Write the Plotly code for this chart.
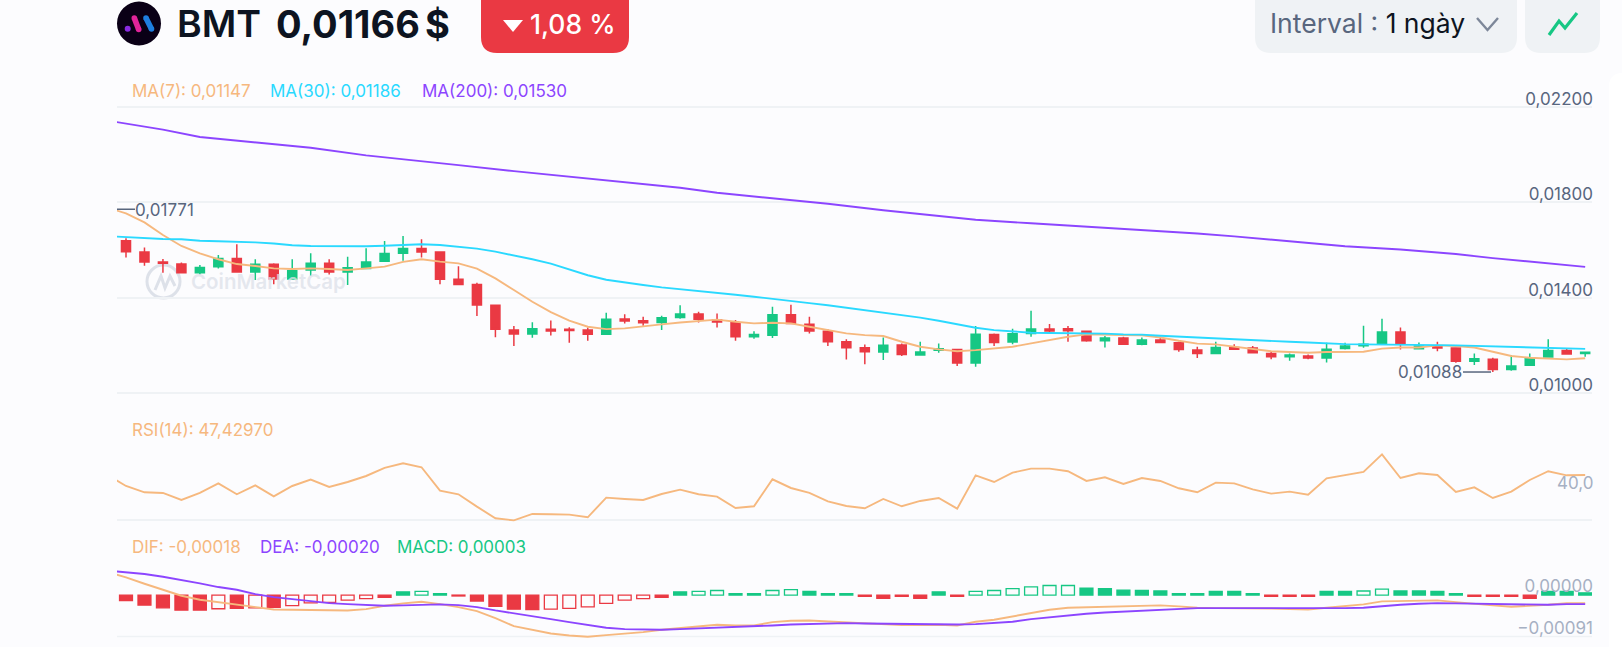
import numpy as np
import plotly.graph_objects as go

W = 1622
H = 647

# prices in 0.00001 steps
days = list(range(1, 81))
opens = [1639, 1592, 1550, 1541, 1505, 1530, 1564, 1508, 1540, 1478,
         1516, 1544, 1508, 1522, 1553, 1586, 1606, 1592, 1477, 1455,
         1368, 1264, 1248, 1267, 1267, 1264, 1246, 1310, 1303, 1296,
         1317, 1331, 1306, 1295, 1236, 1242, 1328, 1288, 1259, 1215,
         1190, 1172, 1201, 1159, 1179, 1183, 1126, 1245, 1214, 1250,
         1268, 1270, 1259, 1219, 1231, 1205, 1222, 1211, 1180, 1166,
         1191, 1189, 1166, 1152, 1155, 1147, 1187, 1198, 1204, 1256,
         1186, 1197, 1189, 1133, 1142, 1099, 1116, 1151, 1178, 1166]
closes = [1593, 1550, 1544, 1505, 1527, 1564, 1508, 1540, 1478, 1513,
          1544, 1508, 1525, 1550, 1585, 1606, 1592, 1477, 1455, 1369,
          1267, 1248, 1270, 1260, 1262, 1246, 1309, 1302, 1295, 1316,
          1331, 1309, 1298, 1236, 1245, 1328, 1292, 1260, 1215, 1190,
          1173, 1200, 1161, 1172, 1186, 1126, 1246, 1212, 1249, 1268,
          1260, 1261, 1219, 1231, 1205, 1222, 1212, 1182, 1166, 1191,
          1184, 1169, 1152, 1159, 1147, 1184, 1197, 1204, 1256, 1204,
          1197, 1189, 1133, 1144, 1099, 1113, 1145, 1178, 1164, 1171]
highs = [1649, 1611, 1562, 1548, 1537, 1579, 1624, 1561, 1544, 1561,
         1586, 1561, 1572, 1607, 1638, 1659, 1645, 1593, 1532, 1463,
         1371, 1281, 1297, 1304, 1276, 1275, 1337, 1330, 1320, 1324,
         1368, 1341, 1334, 1306, 1259, 1362, 1370, 1320, 1267, 1225,
         1203, 1233, 1208, 1215, 1208, 1186, 1281, 1250, 1270, 1345,
         1289, 1281, 1261, 1239, 1236, 1233, 1236, 1215, 1194, 1215,
         1204, 1197, 1176, 1166, 1162, 1211, 1211, 1282, 1312, 1275,
         1212, 1215, 1191, 1166, 1148, 1158, 1166, 1225, 1185, 1174]
lows = [1568, 1534, 1505, 1502, 1497, 1522, 1505, 1474, 1456, 1478,
        1491, 1497, 1453, 1522, 1553, 1555, 1568, 1456, 1452, 1323,
        1234, 1197, 1232, 1241, 1211, 1219, 1246, 1292, 1282, 1264,
        1312, 1296, 1275, 1219, 1228, 1231, 1292, 1250, 1197, 1141,
        1121, 1138, 1155, 1156, 1169, 1113, 1110, 1197, 1205, 1236,
        1250, 1215, 1215, 1191, 1203, 1200, 1211, 1173, 1147, 1163,
        1180, 1166, 1142, 1135, 1142, 1128, 1183, 1190, 1204, 1183,
        1186, 1175, 1127, 1117, 1088, 1093, 1116, 1151, 1161, 1152]

# line series start one day earlier, the chart edge cuts that first segment
line_days = list(range(0, 81))
ma7 = [1777, 1754, 1716, 1663, 1617, 1586, 1561, 1541, 1533, 1523, 1520, 1523, 1520,
       1516, 1523, 1530, 1550, 1561, 1551, 1544, 1522, 1481, 1432, 1383, 1339, 1304,
       1278, 1268, 1271, 1278, 1288, 1296, 1302, 1308, 1299, 1292, 1295, 1292, 1278,
       1264, 1250, 1243, 1239, 1215, 1194, 1183, 1175, 1180, 1187, 1194, 1208, 1222,
       1236, 1246, 1246, 1243, 1242, 1233, 1219, 1207, 1204, 1194, 1183, 1175, 1172,
       1169, 1172, 1173, 1173, 1186, 1191, 1191, 1200, 1197, 1191, 1173, 1155, 1148,
       1145, 1141, 1146]
ma30 = [1658, 1653, 1649, 1646, 1645, 1639, 1637, 1635, 1632, 1627, 1620, 1617, 1616,
        1614, 1616, 1618, 1621, 1624, 1621, 1614, 1606, 1593, 1578, 1561, 1543, 1520,
        1494, 1475, 1463, 1453, 1443, 1436, 1429, 1421, 1412, 1404, 1396, 1387, 1377,
        1368, 1358, 1348, 1337, 1327, 1316, 1303, 1288, 1274, 1264, 1257, 1253, 1252,
        1252, 1250, 1249, 1246, 1245, 1240, 1236, 1233, 1231, 1226, 1222, 1218, 1215,
        1212, 1208, 1205, 1204, 1204, 1204, 1201, 1201, 1200, 1198, 1197, 1196, 1194,
        1192, 1189, 1185]
ma200_days = [0, 3, 5, 8, 11, 14, 17, 19, 22, 25, 28, 31, 33, 36, 39, 42, 45, 47, 50, 53,
              56, 59, 61, 64, 67, 70, 73, 75, 78, 80]
ma200 = [2143, 2105, 2074, 2051, 2029, 1997, 1974, 1956, 1931, 1907, 1884, 1861, 1840,
         1817, 1794, 1767, 1744, 1727, 1712, 1698, 1684, 1669, 1657, 1637, 1616, 1602,
         1583, 1566, 1545, 1529]

rsi = [47.40, 45.61, 44.57, 44.46, 43.30, 44.46, 46.05, 44.24, 45.72, 43.91, 45.61,
       46.66, 45.45, 46.27, 47.26, 48.59, 49.36, 48.70, 44.84, 44.24, 42.20, 40.28,
       39.94, 40.99, 40.94, 40.88, 40.44, 43.69, 43.47, 43.30, 44.29, 45.01, 44.24,
       43.85, 41.98, 42.26, 46.71, 45.28, 44.46, 43.08, 42.31, 41.93, 43.47, 42.26,
       43.14, 43.63, 41.87, 47.37, 46.27, 47.82, 48.48, 48.48, 48.04, 46.44, 47.04,
       45.94, 46.93, 46.44, 45.23, 44.57, 46.16, 46.05, 45.06, 44.35, 44.68, 44.18,
       46.88, 47.43, 47.93, 50.84, 46.93, 47.71, 47.43, 44.62, 45.39, 43.63, 44.68,
       46.60, 48.04, 47.37, 47.43]

dif = [50.6, 38.8, 24.9, 11.7, -1.5, -10.3, -15.4, -22.0, -25.7, -31.5, -32.3, -33.0,
       -33.7, -33.7, -30.8, -23.5, -18.3, -14.7, -19.8, -26.4, -35.2, -50.6, -68.2,
       -76.2, -84.3, -88.7, -91.6, -88.0, -85.0, -81.4, -76.2, -72.6, -68.2, -65.2,
       -66.7, -66.7, -59.4, -56.4, -55.7, -57.9, -60.1, -63.0, -64.5, -66.0, -66.0,
       -65.2, -66.7, -58.6, -54.2, -46.9, -40.3, -32.3, -27.9, -27.1, -24.9, -24.9,
       -23.5, -22.7, -24.9, -27.9, -28.6, -28.6, -28.6, -29.3, -30.8, -31.5, -27.9,
       -24.9, -20.5, -13.9, -13.2, -12.5, -11.7, -15.4, -19.8, -22.7, -25.7, -24.2,
       -21.3, -17.6, -17.6]
dea = [53.5, 50.6, 46.2, 40.3, 33.7, 25.7, 17.6, 11.7, 2.2, -4.4, -8.8, -13.2, -17.6,
       -19.8, -22.0, -23.5, -22.7, -21.3, -20.5, -22.0, -26.4, -33.7, -39.6, -45.4,
       -52.8, -59.4, -66.0, -71.8, -74.8, -76.2, -76.2, -74.8, -73.3, -71.8, -70.4,
       -69.6, -66.7, -64.5, -63.0, -62.3, -61.6, -62.3, -63.0, -63.0, -63.8, -63.8,
       -64.5, -63.8, -61.6, -58.6, -52.8, -48.4, -44.7, -41.0, -38.1, -35.9, -33.7,
       -31.5, -29.3, -28.6, -28.6, -28.6, -28.6, -29.3, -30.1, -30.1, -29.3, -28.6,
       -27.9, -24.2, -21.3, -19.1, -17.6, -18.3, -19.1, -20.5, -21.3, -22.0, -21.3,
       -19.8, -19.8]
macd = [-12, -22, -28, -33, -33, -30, -29, -28, -27, -23, -17, -16, -11, -8, -5, 7, 8, 3,
        -2, -13, -25, -31, -32, -31, -29, -26, -18, -11, -8, -5, 7, 8, 10, 3, 3, 10, 12,
        8, 3, 3, -3, -7, -3, -7, 7, -3, 8, 10, 14, 18, 21, 21, 15, 14, 11, 10, 9, 3, 3,
        8, 8, 3, -3, -3, -3, 8, 8, 9, 13, 9, 9, 8, 3, -3, -3, -3, -7, 8, 8, 5]
# days where the histogram bar is an outline only
macd_hollow = [6, 8, 10, 11, 12, 13, 14, 17, 24, 25, 26, 27, 28, 29, 32, 33, 36, 37, 47,
               48, 49, 50, 51, 52, 68, 69]

price_ticks = [0.010, 0.014, 0.018, 0.022]
macd_ticks = [0, -0.00091]

RED = "#EA3943"
GREEN = "#16C784"
ORANGE = "#F6B87E"
CYAN = "#2AD9FF"
PURPLE = "#8C45FF"
GREY = "#58667E"
PALE = "#A6B0C3"
DARK = "#0D1421"
GRID = "#EFF2F5"
BG = "#FCFCFE"
WATERMARK = "#DDE1E9"
FONT = "Inter"
LINE_WIDTH = 1.9


def scaled(values):
    return (np.array(values, dtype=float) / 100000).tolist()


def paper_x(px):
    return px / W


def paper_y(py):
    return 1 - py / H


def text(px, py, content, color, size, weight=400, anchor="left"):
    return dict(xref="paper", yref="paper", x=paper_x(px), y=paper_y(py), text=content,
                showarrow=False, xanchor=anchor, yanchor="middle",
                font=dict(family=FONT, size=size, color=color, weight=weight))


def path_shape(path, fill=None, line=None, width=0, layer="above"):
    return dict(type="path", xref="paper", yref="paper", path=path, fillcolor=fill,
                line=dict(color=line, width=width), layer=layer)


def round_box(x0, y0, x1, y1, r, fill, layer="below"):
    x0, x1 = paper_x(x0), paper_x(x1)
    y0, y1 = paper_y(y0), paper_y(y1)
    rx, ry = r / W, r / H
    path = (f"M{x0 + rx},{y0} L{x1 - rx},{y0} Q{x1},{y0} {x1},{y0 - ry} L{x1},{y1 + ry} "
            f"Q{x1},{y1} {x1 - rx},{y1} L{x0 + rx},{y1} Q{x0},{y1} {x0},{y1 + ry} "
            f"L{x0},{y0 - ry} Q{x0},{y0} {x0 + rx},{y0} Z")
    return path_shape(path, fill=fill, line=fill, width=0, layer=layer)


def polyline(points, color, width, layer="above", close=False, fill=None):
    parts = [f"{paper_x(x)},{paper_y(y)}" for x, y in points]
    path = "M" + " L".join(parts) + (" Z" if close else "")
    return path_shape(path, fill=fill, line=color, width=width, layer=layer)


def dot(x, y, r, color):
    return dict(type="circle", xref="paper", yref="paper", x0=paper_x(x - r), x1=paper_x(x + r),
                y0=paper_y(y + r), y1=paper_y(y - r), fillcolor=color, line=dict(width=0))


def logo_stroke(p0, p1, color, width):
    return [polyline([p0, p1], color, width), dot(p0[0], p0[1], width / 2, color),
            dot(p1[0], p1[1], width / 2, color)]


fig = go.Figure()

fig.add_trace(go.Candlestick(
    x=days, open=scaled(opens), high=scaled(highs), low=scaled(lows), close=scaled(closes),
    increasing=dict(line=dict(color=GREEN, width=1.5), fillcolor=GREEN),
    decreasing=dict(line=dict(color=RED, width=1.5), fillcolor=RED),
    yaxis="y", whiskerwidth=0))
fig.add_trace(go.Scatter(x=line_days, y=scaled(ma7), mode="lines", yaxis="y",
                         line=dict(color=ORANGE, width=LINE_WIDTH)))
fig.add_trace(go.Scatter(x=line_days, y=scaled(ma30), mode="lines", yaxis="y",
                         line=dict(color=CYAN, width=LINE_WIDTH)))
fig.add_trace(go.Scatter(x=ma200_days, y=scaled(ma200), mode="lines", yaxis="y",
                         line=dict(color=PURPLE, width=LINE_WIDTH)))

fig.add_trace(go.Scatter(x=line_days, y=rsi, mode="lines", yaxis="y2",
                         line=dict(color=ORANGE, width=LINE_WIDTH)))

bar_colors = [GREEN if v >= 0 else RED for v in macd]
bar_fills = [BG if d in macd_hollow else c for d, c in zip(days, bar_colors)]
fig.add_trace(go.Bar(x=days, y=scaled(macd), width=0.7, yaxis="y3",
                     marker=dict(color=bar_fills, line=dict(color=bar_colors, width=1.3))))
fig.add_trace(go.Scatter(x=line_days, y=scaled(dif), mode="lines", yaxis="y3",
                         line=dict(color=ORANGE, width=LINE_WIDTH)))
fig.add_trace(go.Scatter(x=line_days, y=scaled(dea), mode="lines", yaxis="y3",
                         line=dict(color=PURPLE, width=LINE_WIDTH)))

shapes = [
    # high and low markers
    dict(type="line", xref="paper", yref="y", x0=paper_x(117), x1=paper_x(135), y0=0.01771,
         y1=0.01771, line=dict(color=GREY, width=1.5)),
    dict(type="line", xref="paper", yref="y", x0=paper_x(1463), x1=paper_x(1491), y0=0.01088,
         y1=0.01088, line=dict(color=GREY, width=1.5)),
    dict(type="line", xref="paper", yref="y3", x0=paper_x(117), x1=paper_x(1592), y0=-0.00091,
         y1=-0.00091, line=dict(color=GRID, width=1.5), layer="below"),
    # header boxes
    round_box(481, -20, 629, 53, 16, RED),
    round_box(1255, -20, 1517, 53, 16, GRID),
    round_box(1525, -20, 1600, 53, 16, GRID),
    polyline([(1477, 18), (1487.5, 30), (1498, 18)], "#7D8799", 2.4),
    polyline([(1549, 35), (1559, 21), (1565, 28), (1577, 13)], GREEN, 3.2),
    polyline([(503, 20), (523, 20), (513, 32)], RED, 0, close=True, fill="#FFFFFF"),
    # side panel edge
    round_box(1609, 73, 1640, 680, 14, "#FFFFFF"),
    # token logo
    dot(139, 23.5, 22, "#0A0016"),
    dot(127.7, 28.7, 3, "#8A2BE2"),
    *logo_stroke((134.3, 18), (138.7, 29.5), "#E0249A", 5.6),
    *logo_stroke((146, 18), (151.5, 29), "#1E7FE0", 5.6),
    # watermark logo
    dict(type="circle", xref="paper", yref="paper", x0=paper_x(147), x1=paper_x(180),
         y0=paper_y(298), y1=paper_y(265), line=dict(color=WATERMARK, width=3), layer="below"),
    polyline([(155, 290), (161, 276), (165, 288), (170, 276), (175, 286)], WATERMARK, 3,
             layer="below"),
]

annotations = [
    text(175, 24, "BMT", DARK, 37.5, 600),
    text(274, 24, "0,01166", DARK, 38, 700),
    text(423, 24, "$", DARK, 38, 700),
    text(528, 24, "1,08 %", "#FFFFFF", 26.5, 500),
    text(1268, 23.5, "Interval : <span style='color:#0D1421'>1 ngày</span>", GREY, 26.5),
    text(130, 91, "MA(7): 0,01147", ORANGE, 17),
    text(268, 91, "MA(30): 0,01186", CYAN, 17),
    text(420, 91, "MA(200): 0,01530", PURPLE, 17),
    text(130, 430, "RSI(14): 47,42970", ORANGE, 17),
    text(130, 547, "DIF: -0,00018", ORANGE, 17),
    text(258, 547, "DEA: -0,00020", PURPLE, 17),
    text(395, 547, "MACD: 0,00003", GREEN, 17),
    text(133, 210, "0,01771", GREY, 17),
    text(1464, 372, "0,01088", GREY, 17, anchor="right"),
    text(1595, 483, "40,0", PALE, 17, anchor="right"),
    text(189, 281, "CoinMarketCap", "rgba(221,225,233,0.75)", 20.5, 600),
]

fig.update_layout(
    width=W, height=H, margin=dict(l=0, r=0, t=0, b=0), showlegend=False,
    paper_bgcolor=BG, plot_bgcolor="rgba(0,0,0,0)", boxgap=0.3, barmode="overlay",
    separators=",.", font=dict(family=FONT), shapes=shapes, annotations=annotations,
    xaxis=dict(domain=[paper_x(117), paper_x(1592)], range=[0.513, 80.37], visible=False,
               rangeslider=dict(visible=False), fixedrange=True),
    yaxis=dict(domain=[paper_y(400), paper_y(80)], range=[0.009706, 0.023133], side="right",
               tickvals=price_ticks, tickformat=".5f", ticklabelposition="inside top",
               ticklabelstandoff=-4, ticklabelshift=4,
               tickfont=dict(size=17, color=GREY, family=FONT), gridcolor=GRID, gridwidth=1.5,
               zeroline=False, showline=False, ticks=""),
    yaxis2=dict(domain=[paper_y(525), paper_y(440)], range=[39.17, 53.2], side="right",
                anchor="x", tickvals=[40], showticklabels=False, gridcolor=GRID, gridwidth=1.5,
                zeroline=False, showline=False),
    yaxis3=dict(domain=[paper_y(642), paper_y(560)], range=[-0.00103, 0.00077], side="right",
                anchor="x", tickvals=macd_ticks, tickformat=".5f", ticklabelposition="inside top",
                ticklabelstandoff=-4, ticklabelshift=3,
                tickfont=dict(size=17, color=PALE, family=FONT), showgrid=False,
                zeroline=False, showline=False, ticks=""),
)

fig.write_html("out.html", config=dict(displayModeBar=False),
               post_script="document.body.style.margin='0';")
